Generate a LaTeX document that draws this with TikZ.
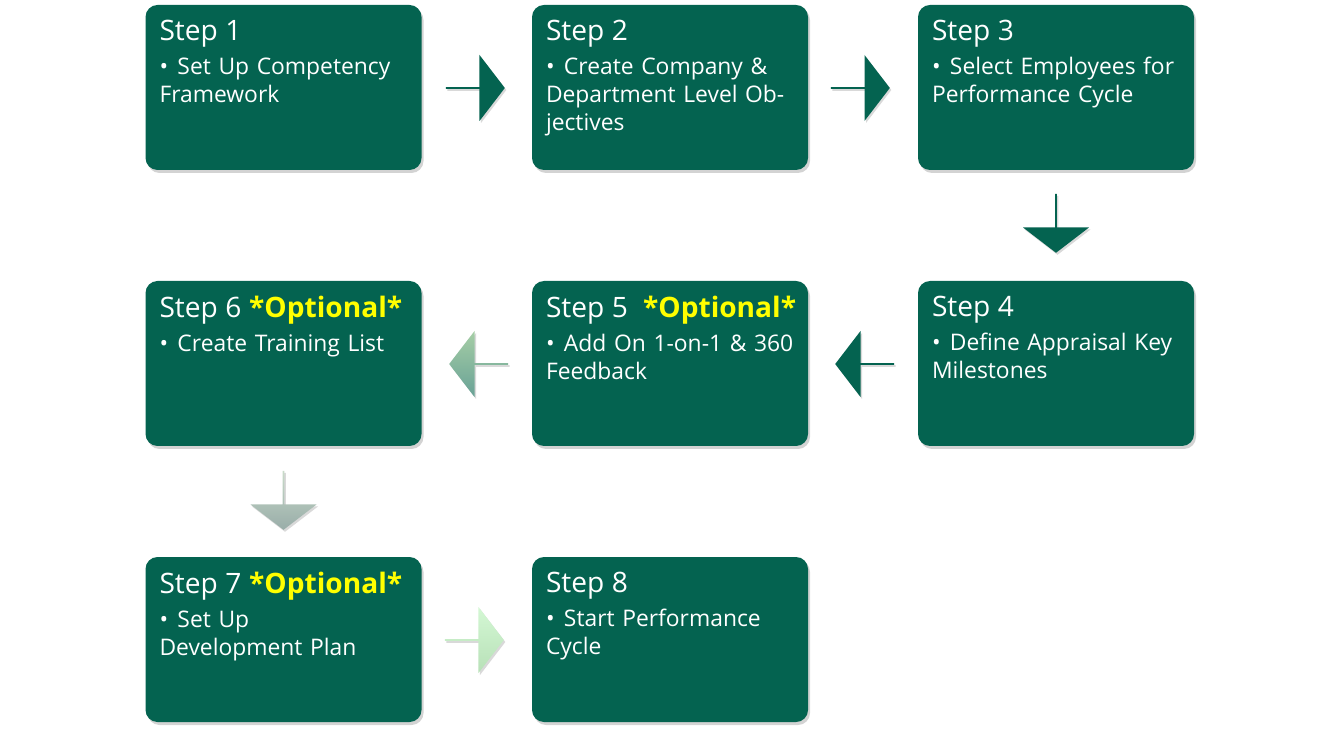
\documentclass[tikz,border=0pt]{standalone}
\usepackage{fontspec}
\setmainfont{Open Sans}
\usetikzlibrary{positioning, shapes.arrows, shadows}
\definecolor{stepgreen}{HTML}{046350}
\definecolor{optyellow}{HTML}{FFFF00}

\newcommand{\bul}[1]{\par\hangindent=0.36cm\hangafter=1\makebox[0.36cm][l]{\textbullet}#1}

\begin{document}
\begin{tikzpicture}
	[bx/.style={fill=stepgreen, rounded corners=0.24cm, minimum width=5.52cm,
	            minimum height=3.3cm, inner sep=0pt,
	            drop shadow={shadow xshift=0.04cm, shadow yshift=-0.06cm, opacity=0.35}},
	 tx/.style={anchor=north west, text=white, text width=5.1cm, align=left,
	            inner sep=0pt, font=\fontsize{13}{15.9}\selectfont},
	 ar/.style={single arrow, minimum height=1.18cm, minimum width=1.32cm,
	            single arrow head extend=0.28cm, single arrow tip angle=105, inner sep=0pt,
	            drop shadow={shadow xshift=0.03cm, shadow yshift=-0.04cm, opacity=0.3}},
	 ttl/.style={font=\fontsize{16}{19}\selectfont}]
	\useasboundingbox (0,0) rectangle (26.8,-14.62);

	% boxes
	\node[bx] (s1) at (5.67,-1.75) {};
	\node[bx] (s2) at (13.4,-1.75) {};
	\node[bx] (s3) at (21.12,-1.75) {};
	\node[bx] (s4) at (21.12,-7.27) {};
	\node[bx] (s5) at (13.4,-7.27) {};
	\node[bx] (s6) at (5.67,-7.27) {};
	\node[bx] (s7) at (5.67,-12.79) {};
	\node[bx] (s8) at (13.4,-12.79) {};

	% texts
	\node[tx] (t1) at ([shift={(0.28,-0.3)}]s1.north west)
		{{\fontsize{16}{19}\selectfont Step 1}\\[0.12cm]\bul{Set Up Competency Framework}};
	\node[tx] (t2) at ([shift={(0.28,-0.3)}]s2.north west)
		{{\fontsize{16}{19}\selectfont Step 2}\\[0.12cm]\bul{Create Company \& Department Level Objectives}};
	\node[tx] (t3) at ([shift={(0.28,-0.3)}]s3.north west)
		{{\fontsize{16}{19}\selectfont Step 3}\\[0.12cm]\bul{Select Employees for Performance Cycle}};
	\node[tx] (t4) at ([shift={(0.28,-0.3)}]s4.north west)
		{{\fontsize{16}{19}\selectfont Step 4}\\[0.12cm]\bul{Define Appraisal Key Milestones}};
	\node[tx] (t5) at ([shift={(0.28,-0.3)}]s5.north west)
		{{\fontsize{16}{19}\selectfont Step 5\hspace{0.3cm}\textcolor{optyellow}{\bfseries *Optional*}}\\[0.12cm]\bul{Add On 1-on-1 \& 360 Feedback}};
	\node[tx] (t6) at ([shift={(0.28,-0.3)}]s6.north west)
		{{\fontsize{16}{19}\selectfont Step 6 \textcolor{optyellow}{\bfseries *Optional*}}\\[0.12cm]\bul{Create Training List}};
	\node[tx] (t7) at ([shift={(0.28,-0.3)}]s7.north west)
		{{\fontsize{16}{19}\selectfont Step 7 \textcolor{optyellow}{\bfseries *Optional*}}\\[0.12cm]\bul{Set Up\\Development Plan}};
	\node[tx] (t8) at ([shift={(0.28,-0.3)}]s8.north west)
		{{\fontsize{16}{19}\selectfont Step 8}\\[0.12cm]\bul{Start Performance Cycle}};

	% arrows
	\node[ar, fill=stepgreen] (a12) at (9.5,-1.76) {};
	\node[ar, fill=stepgreen] (a23) at (17.2,-1.76) {};
	\node[ar, fill=stepgreen, shape border rotate=270] (a34) at (21.12,-4.46) {};
	\node[ar, fill=stepgreen, shape border rotate=180] (a45) at (17.3,-7.28) {};
	\node[ar, top color=green!45!black!35!white, bottom color=stepgreen!60!white,
	      shape border rotate=180] (a56) at (9.58,-7.28) {};
	\node[ar, top color=green!20!gray!35!white, bottom color=stepgreen!35!gray!60!white,
	      shape border rotate=270] (a67) at (5.67,-10.0) {};
	\node[ar, top color=gray!30!green!20!white, bottom color=gray!60!green!40!white] (a78) at (9.48,-12.8) {};
\end{tikzpicture}
\end{document}
